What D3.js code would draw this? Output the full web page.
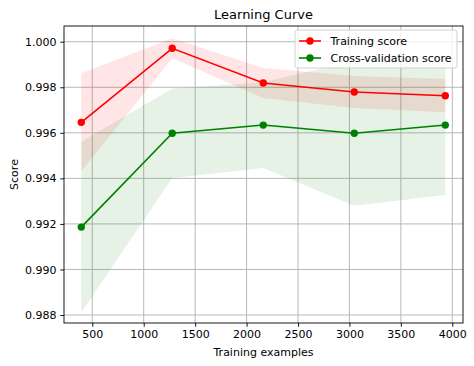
<!doctype html>
<html lang="en">
  <head>
    <meta charset="utf-8"/>
    <title>Learning Curve</title>
    <script src="https://d3js.org/d3.v7.min.js"></script>
    <style>
      body { margin: 0; background: #fff; }
      svg text { font-family: "DejaVu Sans", sans-serif; fill: #000; }
      .axis path, .axis line { stroke: #000; stroke-width: 0.9; }
      .axis text { font-size: 11px; }
      .grid line { stroke: #b0b0b0; stroke-width: 0.9; }
    </style>
  </head>
  <body>
    <div id="chart"></div>
    <script>
      // training sizes and scores
      var trainSizes = [393, 1277, 2162, 3047, 3932];
      var trainMean = [0.99646, 0.99971, 0.99819, 0.99779, 0.99763];
      var trainStd = [0.00215, 0.00044, 0.00066, 0.00070, 0.00073];
      var testMean = [0.99186, 0.99598, 0.99634, 0.99598, 0.99634];
      var testStd = [0.00375, 0.00196, 0.00188, 0.00318, 0.00307];
      var xTicks = [500, 1000, 1500, 2000, 2500, 3000, 3500, 4000];
      var yTicks = [0.988, 0.990, 0.992, 0.994, 0.996, 0.998, 1.000];

      var w = 474;
      var h = 366;
      // plot box (note: "top" is reserved on window, so prefix names)
      var pLeft = 64, pRight = 463, pTop = 26, pBottom = 323;

      var xScale = d3.scaleLinear()
        .domain([225, 4104])
        .range([pLeft, pRight]);

      var yScale = d3.scaleLinear()
        .domain([0.98765, 1.00069])
        .range([pBottom, pTop]);

      var svg = d3.select("#chart")
        .append("svg")
        .attr("width", w)
        .attr("height", h);

      //Grid
      var grid = svg.append("g").attr("class", "grid");
      grid.selectAll(".gx")
        .data(xTicks)
        .enter()
        .append("line")
        .attr("x1", function(d) { return xScale(d); })
        .attr("x2", function(d) { return xScale(d); })
        .attr("y1", pTop)
        .attr("y2", pBottom);
      grid.selectAll(".gy")
        .data(yTicks)
        .enter()
        .append("line")
        .attr("x1", pLeft)
        .attr("x2", pRight)
        .attr("y1", function(d) { return yScale(d); })
        .attr("y2", function(d) { return yScale(d); });

      //Bands
      function band(mean, std) {
        return d3.area()
          .x(function(d, i) { return xScale(trainSizes[i]); })
          .y0(function(d, i) { return yScale(mean[i] - std[i]); })
          .y1(function(d, i) { return yScale(mean[i] + std[i]); })(mean);
      }
      svg.append("path")
        .attr("d", band(trainMean, trainStd))
        .attr("fill", "rgba(255,0,0,0.1)");
      svg.append("path")
        .attr("d", band(testMean, testStd))
        .attr("fill", "rgba(0,128,0,0.1)");

      //Lines and markers
      var series = [
        { name: "Training score", values: trainMean, color: "#ff0000" },
        { name: "Cross-validation score", values: testMean, color: "#008000" }
      ];
      var line = d3.line()
        .x(function(d, i) { return xScale(trainSizes[i]); })
        .y(function(d) { return yScale(d); });

      series.forEach(function(s) {
        svg.append("path")
          .attr("d", line(s.values))
          .attr("fill", "none")
          .attr("stroke", s.color)
          .attr("stroke-width", 1.6);
        svg.selectAll(null)
          .data(s.values)
          .enter()
          .append("circle")
          .attr("cx", function(d, i) { return xScale(trainSizes[i]); })
          .attr("cy", function(d) { return yScale(d); })
          .attr("r", 3.7)
          .attr("fill", s.color);
      });

      //Axes
      var xAxis = d3.axisBottom(xScale)
        .tickValues(xTicks)
        .tickSize(3.8)
        .tickPadding(3.8)
        .tickFormat(d3.format("d"));
      var yAxis = d3.axisLeft(yScale)
        .tickValues(yTicks)
        .tickSize(3.8)
        .tickPadding(3.8)
        .tickFormat(d3.format(".3f"));

      svg.append("g")
        .attr("class", "axis")
        .attr("transform", "translate(0," + pBottom + ")")
        .call(xAxis)
        .call(function(g) { g.select(".domain").remove(); });
      svg.append("g")
        .attr("class", "axis")
        .attr("transform", "translate(" + pLeft + ",0)")
        .call(yAxis)
        .call(function(g) { g.select(".domain").remove(); });

      //Frame
      svg.append("rect")
        .attr("x", pLeft)
        .attr("y", pTop)
        .attr("width", pRight - pLeft)
        .attr("height", pBottom - pTop)
        .attr("fill", "none")
        .attr("stroke", "#000")
        .attr("stroke-width", 0.9);

      //Labels
      svg.append("text")
        .attr("x", (pLeft + pRight) / 2)
        .attr("y", 19)
        .attr("text-anchor", "middle")
        .attr("font-size", "13px")
        .text("Learning Curve");
      svg.append("text")
        .attr("x", (pLeft + pRight) / 2)
        .attr("y", 356)
        .attr("text-anchor", "middle")
        .attr("font-size", "11px")
        .text("Training examples");
      svg.append("text")
        .attr("transform", "translate(18," + ((pTop + pBottom) / 2) + ") rotate(-90)")
        .attr("text-anchor", "middle")
        .attr("font-size", "11px")
        .text("Score");

      //Legend
      var legend = svg.append("g").attr("transform", "translate(295,30)");
      legend.append("rect")
        .attr("width", 162)
        .attr("height", 38)
        .attr("rx", 2.5)
        .attr("fill", "rgba(255,255,255,0.8)")
        .attr("stroke", "#cccccc")
        .attr("stroke-width", 0.9);
      series.forEach(function(s, i) {
        var yy = 11 + i * 17;
        legend.append("line")
          .attr("x1", 4).attr("x2", 26)
          .attr("y1", yy).attr("y2", yy)
          .attr("stroke", s.color)
          .attr("stroke-width", 1.6);
        legend.append("circle")
          .attr("cx", 15).attr("cy", yy)
          .attr("r", 3.7)
          .attr("fill", s.color);
        legend.append("text")
          .attr("x", 35.5)
          .attr("y", yy + 4)
          .attr("font-size", "11px")
          .text(s.name);
      });
    </script>
  </body>
</html>
